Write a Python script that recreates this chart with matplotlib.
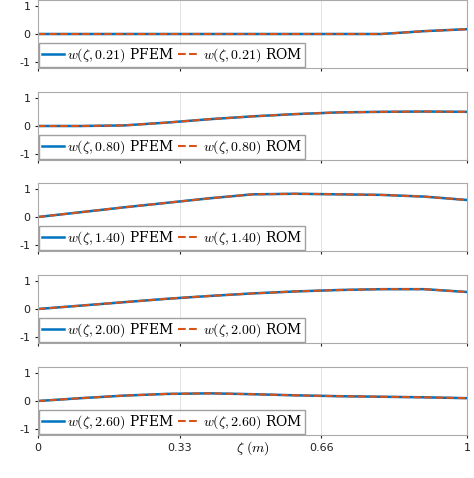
import numpy as np
import matplotlib.pyplot as plt

plt.rcParams['mathtext.fontset'] = 'cm'
plt.rcParams['axes.unicode_minus'] = False

times = ['0.21', '0.80', '1.40', '2.00', '2.60']
zeta = [0, 0.1, 0.2, 0.3, 0.4, 0.5, 0.6, 0.7, 0.8, 0.9, 1.0]
w_pfem = [
    [0, 0, 0, 0, 0, 0, 0, 0, 0.0, 0.1, 0.17],
    [0, 0, 0.02, 0.12, 0.24, 0.34, 0.42, 0.48, 0.5, 0.51, 0.5],
    [0, 0.17, 0.34, 0.5, 0.66, 0.8, 0.82, 0.8, 0.78, 0.72, 0.6],
    [0, 0.12, 0.24, 0.36, 0.46, 0.55, 0.62, 0.67, 0.7, 0.7, 0.6],
    [0, 0.1, 0.19, 0.25, 0.27, 0.24, 0.2, 0.17, 0.15, 0.13, 0.1],
]
w_rom = w_pfem

fig = plt.figure(figsize=(4.74, 4.78), dpi=100)
tops = [0, 92, 183, 275, 367]
for i, t in enumerate(tops):
    ax = fig.add_axes([38 / 474, 1 - (t + 68) / 478, 429 / 474, 68 / 478])
    ax.plot(zeta, w_pfem[i], color='#0072BD', lw=1.8,
            label=r'$w(\zeta,%s)$ PFEM' % times[i])
    ax.plot(zeta, w_rom[i], '--', color='#D95319', lw=1.5,
            label=r'$w(\zeta,%s)$ ROM' % times[i])
    ax.set_xlim(0, 1)
    ax.set_ylim(-1.2, 1.2)
    ax.set_yticks([-1, 0, 1])
    ax.set_xticks([0, 0.33, 0.66, 1])
    ax.grid(axis='x', color='#dddddd', lw=0.6)
    ax.tick_params(labelsize=8, length=2, colors='#222222')
    for s in ax.spines.values():
        s.set_color('#aaaaaa')
    if i < 4:
        ax.set_xticklabels([])
    else:
        ax.set_xticklabels(['0', '0.33', '0.66', '1'])
        ax.set_xlabel(r'$\zeta\ (m)$', fontsize=10, labelpad=-10)
    ax.legend(loc='lower left', ncol=2, frameon=True, fancybox=False,
              edgecolor='#888888', handlelength=1.6, handletextpad=0.2,
              columnspacing=0.3, borderpad=0.2, borderaxespad=0.1,
              prop={'family': 'DejaVu Serif', 'size': 10})

fig.savefig('out.png')
